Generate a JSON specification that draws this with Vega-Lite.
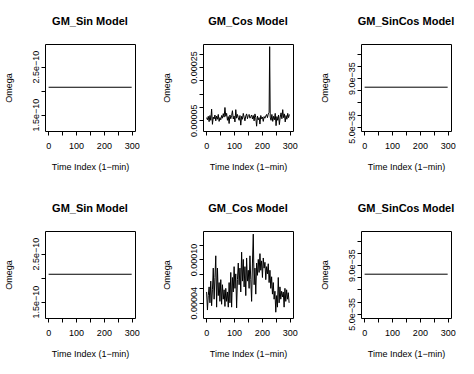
{
  "$schema": "https://vega.github.io/schema/vega-lite/v6.json",
  "background": "white",
  "padding": {"left": 3, "top": 15, "right": 5, "bottom": 5},
  "datasets": {
    "sin": [{"t": 1, "omega": 2.07e-10}, {"t": 300, "omega": 2.07e-10}],
    "sincos": [{"t": 1, "omega": 8.25e-35}, {"t": 300, "omega": 8.25e-35}],
    "cos1": [
      {"t":1,"omega":6.0e-5},{"t":4,"omega":5.2e-5},{"t":7,"omega":6.5e-5},{"t":10,"omega":4.5e-5},{"t":13,"omega":6.8e-5},
      {"t":16,"omega":5.0e-5},{"t":19,"omega":9.2e-5},{"t":22,"omega":3.5e-5},{"t":25,"omega":6.2e-5},{"t":28,"omega":5.5e-5},
      {"t":31,"omega":7.0e-5},{"t":34,"omega":4.8e-5},{"t":37,"omega":6.6e-5},{"t":40,"omega":5.4e-5},{"t":43,"omega":7.2e-5},
      {"t":46,"omega":4.6e-5},{"t":49,"omega":6.0e-5},{"t":52,"omega":5.2e-5},{"t":55,"omega":6.8e-5},{"t":58,"omega":5.8e-5},
      {"t":61,"omega":7.5e-5},{"t":64,"omega":6.2e-5},{"t":67,"omega":9.8e-5},{"t":70,"omega":6.5e-5},{"t":73,"omega":7.6e-5},
      {"t":76,"omega":5.0e-5},{"t":79,"omega":6.4e-5},{"t":82,"omega":3.8e-5},{"t":85,"omega":7.0e-5},{"t":88,"omega":5.6e-5},
      {"t":91,"omega":6.8e-5},{"t":94,"omega":8.6e-5},{"t":97,"omega":5.5e-5},{"t":100,"omega":6.6e-5},{"t":103,"omega":4.4e-5},
      {"t":106,"omega":9.0e-5},{"t":109,"omega":5.8e-5},{"t":112,"omega":7.2e-5},{"t":115,"omega":6.0e-5},{"t":118,"omega":5.0e-5},
      {"t":121,"omega":6.8e-5},{"t":124,"omega":3.2e-5},{"t":127,"omega":6.5e-5},{"t":130,"omega":5.4e-5},{"t":133,"omega":7.6e-5},
      {"t":136,"omega":6.2e-5},{"t":139,"omega":4.8e-5},{"t":142,"omega":6.6e-5},{"t":145,"omega":7.4e-5},{"t":148,"omega":5.6e-5},
      {"t":151,"omega":6.8e-5},{"t":154,"omega":7.2e-5},{"t":157,"omega":5.8e-5},{"t":160,"omega":6.4e-5},{"t":163,"omega":7.0e-5},
      {"t":166,"omega":5.5e-5},{"t":169,"omega":6.8e-5},{"t":172,"omega":4.8e-5},{"t":175,"omega":7.4e-5},{"t":178,"omega":6.0e-5},
      {"t":181,"omega":2.8e-5},{"t":184,"omega":6.6e-5},{"t":187,"omega":5.2e-5},{"t":190,"omega":6.0e-5},{"t":193,"omega":3.6e-5},
      {"t":196,"omega":6.8e-5},{"t":199,"omega":5.6e-5},{"t":202,"omega":6.2e-5},{"t":205,"omega":4.6e-5},{"t":208,"omega":6.4e-5},
      {"t":211,"omega":5.8e-5},{"t":214,"omega":6.6e-5},{"t":217,"omega":7.2e-5},{"t":220,"omega":6.0e-5},{"t":223,"omega":7.4e-5},
      {"t":226,"omega":8.0e-5},{"t":228,"omega":3.26e-4},{"t":230,"omega":6.2e-5},{"t":233,"omega":5.0e-5},{"t":236,"omega":7.2e-5},
      {"t":239,"omega":4.6e-5},{"t":242,"omega":6.5e-5},{"t":245,"omega":5.2e-5},{"t":248,"omega":7.6e-5},{"t":251,"omega":3.0e-5},
      {"t":254,"omega":6.4e-5},{"t":257,"omega":5.0e-5},{"t":260,"omega":7.0e-5},{"t":263,"omega":3.4e-5},{"t":266,"omega":6.2e-5},
      {"t":269,"omega":7.8e-5},{"t":272,"omega":5.6e-5},{"t":275,"omega":9.0e-5},{"t":278,"omega":6.0e-5},{"t":281,"omega":7.4e-5},
      {"t":284,"omega":4.4e-5},{"t":287,"omega":6.8e-5},{"t":290,"omega":5.4e-5},{"t":293,"omega":7.6e-5},{"t":296,"omega":6.0e-5},
      {"t":299,"omega":7.2e-5}
    ],
    "cos2": [
      {"t":1,"omega":5.5e-5},{"t":4,"omega":3.0e-5},{"t":7,"omega":5.0e-5},{"t":10,"omega":6.2e-5},{"t":13,"omega":4.0e-5},
      {"t":16,"omega":7.0e-5},{"t":19,"omega":3.6e-5},{"t":22,"omega":5.8e-5},{"t":25,"omega":8.8e-5},{"t":28,"omega":4.5e-5},
      {"t":31,"omega":7.5e-5},{"t":34,"omega":10.5e-5},{"t":37,"omega":3.4e-5},{"t":40,"omega":8.8e-5},{"t":43,"omega":5.0e-5},
      {"t":46,"omega":6.8e-5},{"t":49,"omega":4.2e-5},{"t":52,"omega":7.2e-5},{"t":55,"omega":3.8e-5},{"t":58,"omega":6.5e-5},
      {"t":61,"omega":4.5e-5},{"t":64,"omega":5.8e-5},{"t":67,"omega":3.5e-5},{"t":70,"omega":6.0e-5},{"t":73,"omega":4.2e-5},
      {"t":76,"omega":5.5e-5},{"t":79,"omega":3.4e-5},{"t":82,"omega":6.8e-5},{"t":85,"omega":4.0e-5},{"t":88,"omega":8.2e-5},
      {"t":91,"omega":3.4e-5},{"t":94,"omega":7.5e-5},{"t":97,"omega":5.5e-5},{"t":100,"omega":9.0e-5},{"t":103,"omega":6.0e-5},
      {"t":106,"omega":8.0e-5},{"t":109,"omega":3.3e-5},{"t":112,"omega":7.2e-5},{"t":115,"omega":9.5e-5},{"t":118,"omega":6.5e-5},
      {"t":121,"omega":8.8e-5},{"t":124,"omega":5.5e-5},{"t":127,"omega":11.0e-5},{"t":130,"omega":7.0e-5},{"t":133,"omega":10.0e-5},
      {"t":136,"omega":6.2e-5},{"t":139,"omega":9.0e-5},{"t":142,"omega":5.0e-5},{"t":145,"omega":10.2e-5},{"t":148,"omega":7.0e-5},
      {"t":151,"omega":8.5e-5},{"t":154,"omega":6.0e-5},{"t":157,"omega":10.5e-5},{"t":160,"omega":7.2e-5},{"t":163,"omega":4.2e-5},
      {"t":166,"omega":9.5e-5},{"t":169,"omega":13.5e-5},{"t":172,"omega":6.5e-5},{"t":175,"omega":8.8e-5},{"t":178,"omega":5.2e-5},
      {"t":181,"omega":9.5e-5},{"t":184,"omega":7.8e-5},{"t":187,"omega":10.0e-5},{"t":190,"omega":8.2e-5},{"t":193,"omega":10.8e-5},
      {"t":196,"omega":8.5e-5},{"t":199,"omega":9.8e-5},{"t":202,"omega":7.5e-5},{"t":205,"omega":10.2e-5},{"t":208,"omega":8.8e-5},
      {"t":211,"omega":9.6e-5},{"t":214,"omega":7.2e-5},{"t":217,"omega":9.0e-5},{"t":220,"omega":8.0e-5},{"t":223,"omega":9.4e-5},
      {"t":226,"omega":6.8e-5},{"t":229,"omega":8.5e-5},{"t":232,"omega":6.0e-5},{"t":235,"omega":7.6e-5},{"t":238,"omega":5.2e-5},
      {"t":241,"omega":6.8e-5},{"t":244,"omega":4.5e-5},{"t":247,"omega":5.6e-5},{"t":250,"omega":2.7e-5},{"t":253,"omega":5.0e-5},
      {"t":256,"omega":3.4e-5},{"t":259,"omega":7.5e-5},{"t":262,"omega":4.0e-5},{"t":265,"omega":6.2e-5},{"t":268,"omega":4.5e-5},
      {"t":271,"omega":5.6e-5},{"t":274,"omega":4.8e-5},{"t":277,"omega":5.5e-5},{"t":280,"omega":3.4e-5},{"t":283,"omega":6.0e-5},
      {"t":286,"omega":4.2e-5},{"t":289,"omega":5.8e-5},{"t":292,"omega":4.5e-5},{"t":295,"omega":5.4e-5},{"t":298,"omega":4.0e-5}
    ]
  },
  "config": {
    "font": "Liberation Sans",
    "view": {"stroke": "black", "strokeWidth": 1},
    "title": {"fontSize": 11, "fontWeight": "bold", "color": "black", "offset": 17, "frame": "group"},
    "axis": {
      "grid": false, "domain": false, "ticks": true, "tickColor": "black", "tickSize": 4,
      "labelFontSize": 9, "labelColor": "black", "titleFontSize": 9, "titleFontWeight": "normal", "titleColor": "black",
      "labelFlush": false, "labelOverlap": false
    },
    "axisX": {"labelPadding": 6, "titlePadding": 12},
    "axisY": {"labelAngle": 270, "labelAlign": "center", "labelBaseline": "bottom", "labelPadding": 1, "titlePadding": 18}
  },
  "bounds": "flush",
  "spacing": {"row": 100, "column": 68},
  "columns": 3,
  "concat": [
    {
      "title": "GM_Sin Model", "width": 90, "height": 87, "data": {"name": "sin"},
      "mark": {"type": "line", "color": "black", "strokeWidth": 1},
      "encoding": {
        "x": {"field": "t", "type": "quantitative", "scale": {"domain": [-12, 312], "nice": false, "zero": false},
              "axis": {"values": [0, 50, 100, 150, 200, 250, 300], "labelExpr": "datum.value % 100 == 0 ? datum.label : ''", "title": "Time Index (1−min)"}},
        "y": {"field": "omega", "type": "quantitative", "scale": {"domain": [1.16e-10, 2.97e-10], "nice": false, "zero": false},
              "axis": {"values": [1.5e-10, 2.0e-10, 2.5e-10], "labelExpr": "datum.value < 1.7e-10 ? '1.5e−10' : datum.value > 2.3e-10 ? '2.5e−10' : ''", "title": "Omega"}}
      }
    },
    {
      "title": "GM_Cos Model", "width": 90, "height": 87, "data": {"name": "cos1"},
      "mark": {"type": "line", "color": "black", "strokeWidth": 1},
      "encoding": {
        "x": {"field": "t", "type": "quantitative", "scale": {"domain": [-12, 312], "nice": false, "zero": false},
              "axis": {"values": [0, 50, 100, 150, 200, 250, 300], "labelExpr": "datum.value % 100 == 0 ? datum.label : ''", "title": "Time Index (1−min)"}},
        "y": {"field": "omega", "type": "quantitative", "scale": {"domain": [1.0e-5, 3.36e-4], "nice": false, "zero": false},
              "axis": {"values": [5e-5, 1e-4, 1.5e-4, 2e-4, 2.5e-4, 3e-4], "labelExpr": "datum.value < 7e-5 ? '0.00005' : (datum.value > 2.3e-4 && datum.value < 2.7e-4) ? '0.00025' : ''", "title": "Omega"}}
      }
    },
    {
      "title": "GM_SinCos Model", "width": 90, "height": 87, "data": {"name": "sincos"},
      "mark": {"type": "line", "color": "black", "strokeWidth": 1},
      "encoding": {
        "x": {"field": "t", "type": "quantitative", "scale": {"domain": [-12, 312], "nice": false, "zero": false},
              "axis": {"values": [0, 50, 100, 150, 200, 250, 300], "labelExpr": "datum.value % 100 == 0 ? datum.label : ''", "title": "Time Index (1−min)"}},
        "y": {"field": "omega", "type": "quantitative", "scale": {"domain": [4.67e-35, 11.78e-35], "nice": false, "zero": false},
              "axis": {"values": [5e-35, 6e-35, 7e-35, 8e-35, 9e-35, 10e-35, 11e-35], "labelExpr": "datum.value < 5.5e-35 ? '5.0e−35' : (datum.value > 8.5e-35 && datum.value < 9.5e-35) ? '9.0e−35' : ''", "title": "Omega"}}
      }
    },
    {
      "title": "GM_Sin Model", "width": 90, "height": 87, "data": {"name": "sin"},
      "mark": {"type": "line", "color": "black", "strokeWidth": 1},
      "encoding": {
        "x": {"field": "t", "type": "quantitative", "scale": {"domain": [-12, 312], "nice": false, "zero": false},
              "axis": {"values": [0, 50, 100, 150, 200, 250, 300], "labelExpr": "datum.value % 100 == 0 ? datum.label : ''", "title": "Time Index (1−min)"}},
        "y": {"field": "omega", "type": "quantitative", "scale": {"domain": [1.16e-10, 2.97e-10], "nice": false, "zero": false},
              "axis": {"values": [1.5e-10, 2.0e-10, 2.5e-10], "labelExpr": "datum.value < 1.7e-10 ? '1.5e−10' : datum.value > 2.3e-10 ? '2.5e−10' : ''", "title": "Omega"}}
      }
    },
    {
      "title": "GM_Cos Model", "width": 90, "height": 87, "data": {"name": "cos2"},
      "mark": {"type": "line", "color": "black", "strokeWidth": 1},
      "encoding": {
        "x": {"field": "t", "type": "quantitative", "scale": {"domain": [-12, 312], "nice": false, "zero": false},
              "axis": {"values": [0, 50, 100, 150, 200, 250, 300], "labelExpr": "datum.value % 100 == 0 ? datum.label : ''", "title": "Time Index (1−min)"}},
        "y": {"field": "omega", "type": "quantitative", "scale": {"domain": [1.9e-5, 1.393e-4], "nice": false, "zero": false},
              "axis": {"values": [4e-5, 6e-5, 8e-5, 1e-4, 1.2e-4], "labelExpr": "datum.value < 5e-5 ? '0.00004' : (datum.value > 9e-5 && datum.value < 1.1e-4) ? '0.00010' : ''", "title": "Omega"}}
      }
    },
    {
      "title": "GM_SinCos Model", "width": 90, "height": 87, "data": {"name": "sincos"},
      "mark": {"type": "line", "color": "black", "strokeWidth": 1},
      "encoding": {
        "x": {"field": "t", "type": "quantitative", "scale": {"domain": [-12, 312], "nice": false, "zero": false},
              "axis": {"values": [0, 50, 100, 150, 200, 250, 300], "labelExpr": "datum.value % 100 == 0 ? datum.label : ''", "title": "Time Index (1−min)"}},
        "y": {"field": "omega", "type": "quantitative", "scale": {"domain": [4.67e-35, 11.78e-35], "nice": false, "zero": false},
              "axis": {"values": [5e-35, 6e-35, 7e-35, 8e-35, 9e-35, 10e-35, 11e-35], "labelExpr": "datum.value < 5.5e-35 ? '5.0e−35' : (datum.value > 8.5e-35 && datum.value < 9.5e-35) ? '9.0e−35' : ''", "title": "Omega"}}
      }
    }
  ]
}
